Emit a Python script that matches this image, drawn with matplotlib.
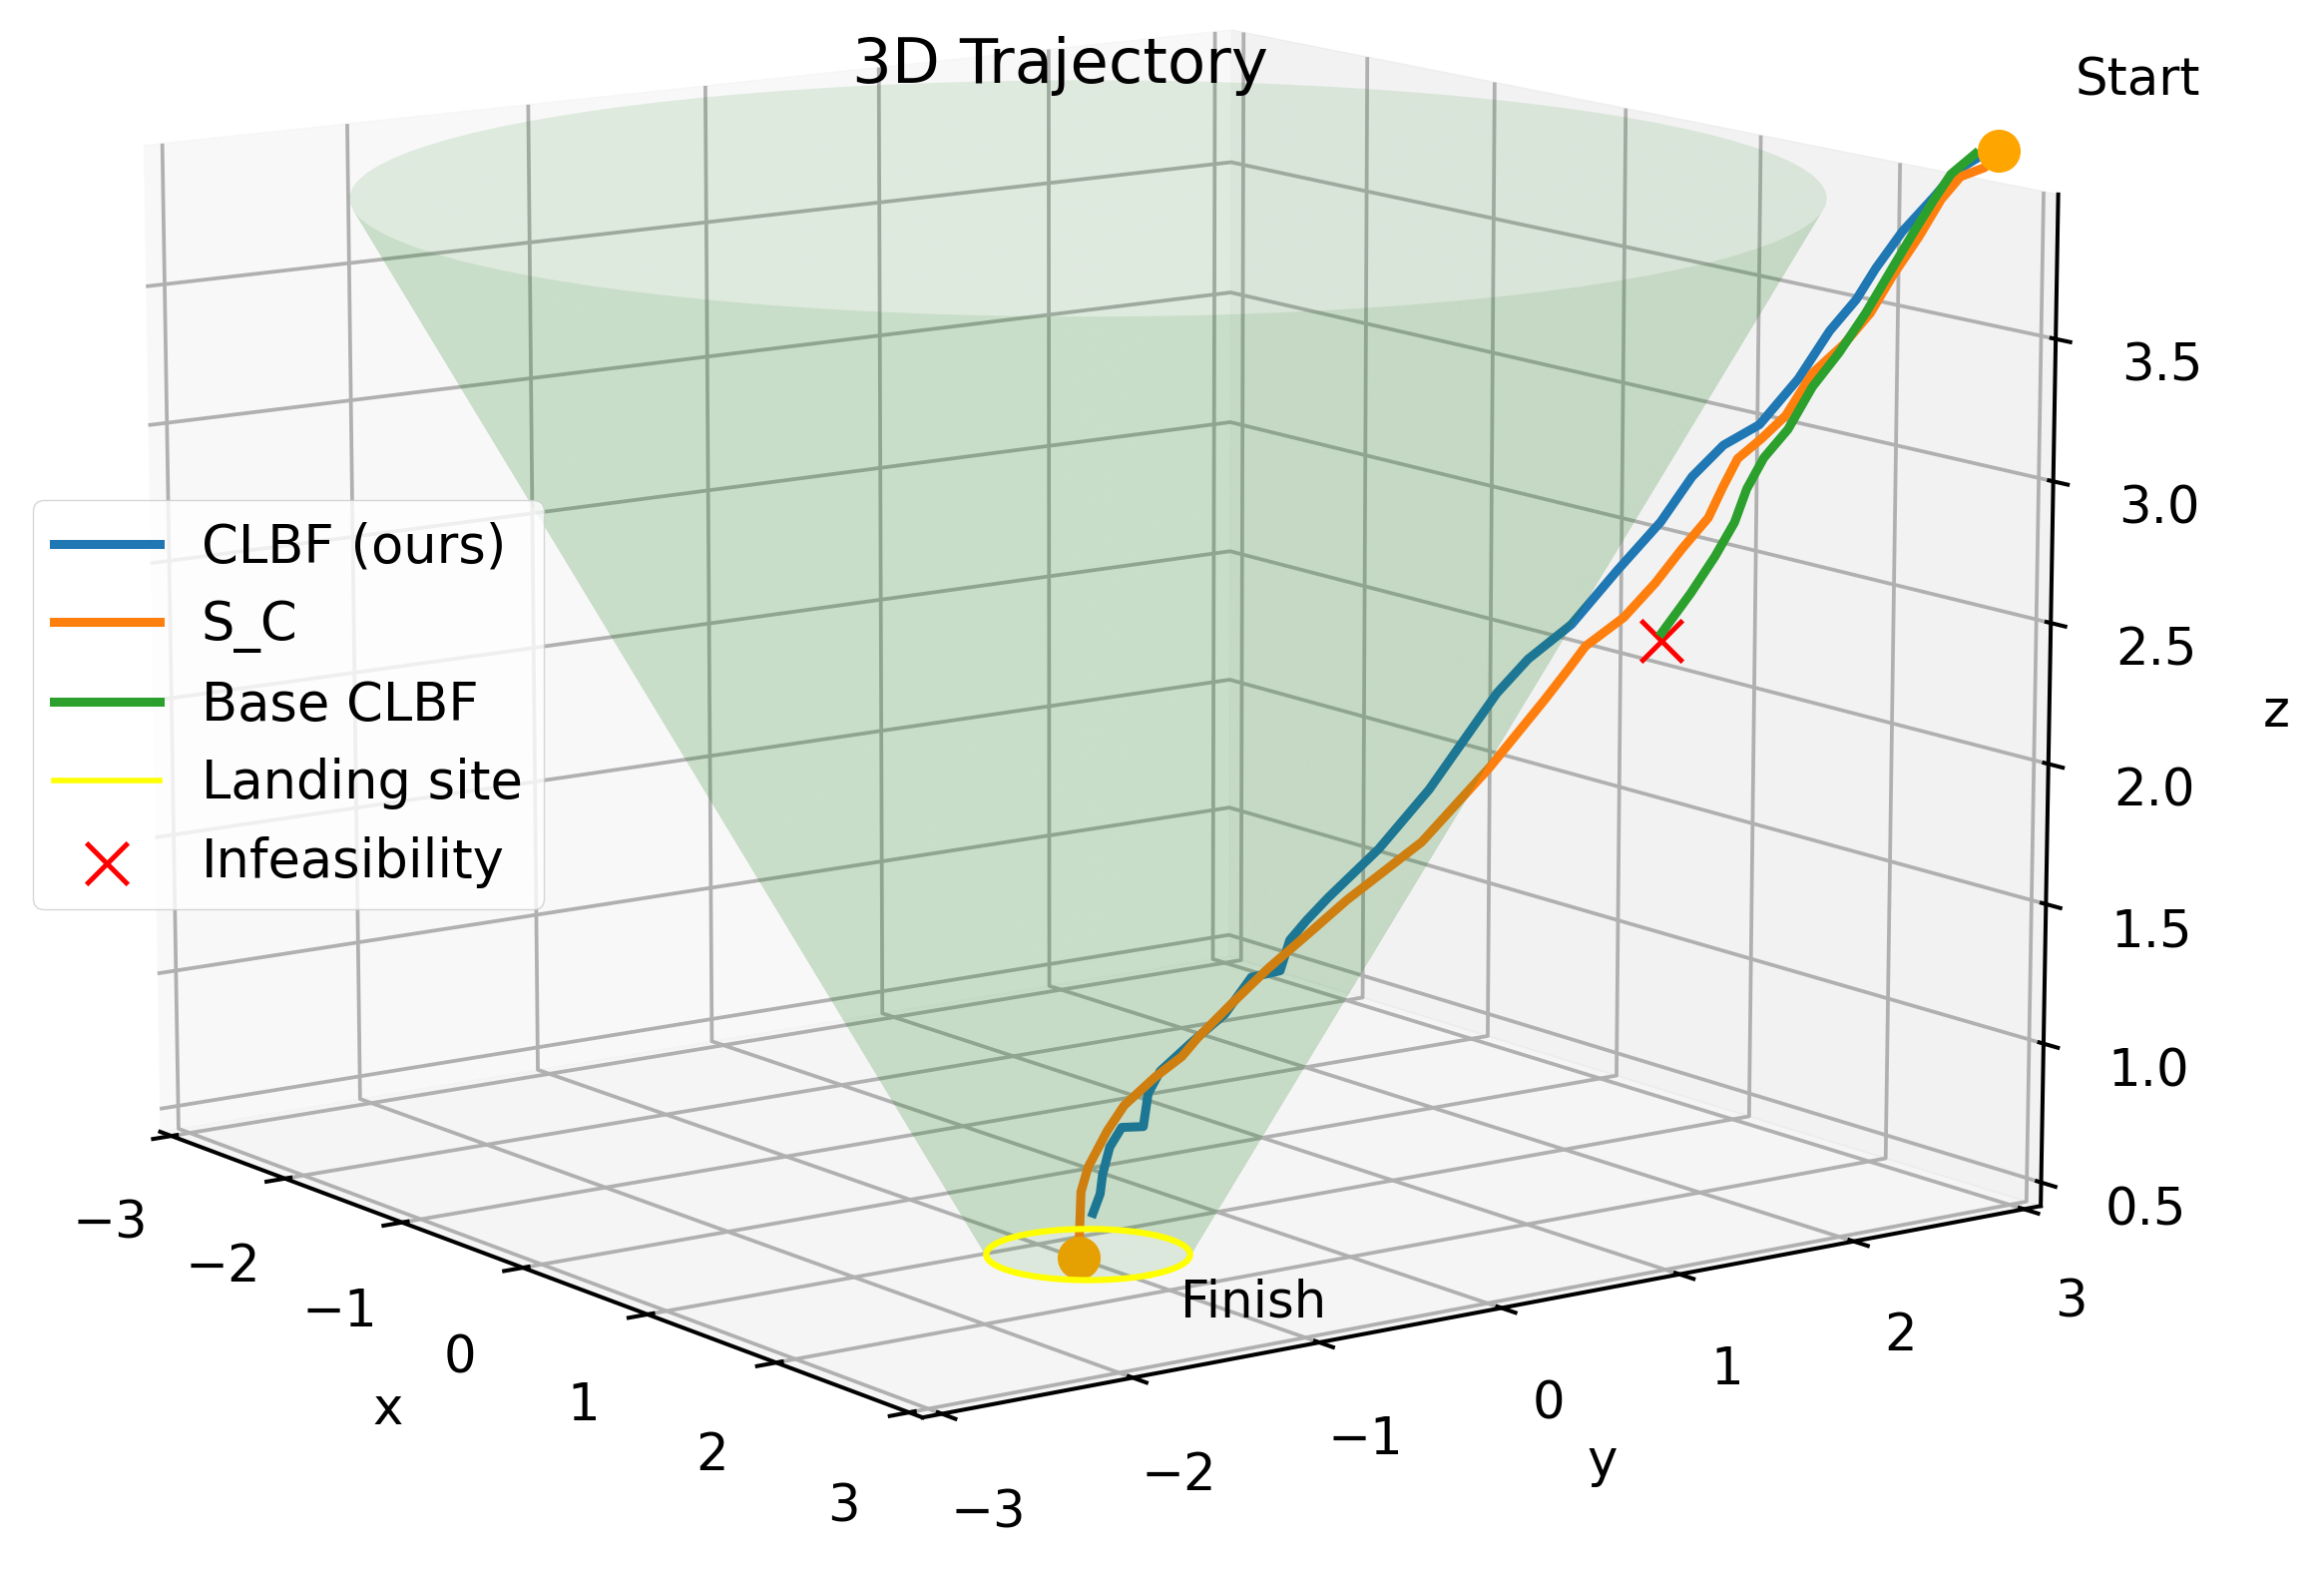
import numpy as np
import matplotlib
matplotlib.use('Agg')
import matplotlib.pyplot as plt

W, H = 2329, 1572

# all three runs lie in the vertical plane x = 0.5*y
plane_k = 0.5
blue_y = [3.78, 3.7, 3.6, 3.51, 3.38, 3.27, 3.19, 3.08, 2.95, 2.79, 2.64, 2.51, 2.38, 2.2, 2.01, 1.83, 1.7, 1.42, 1.21, 1.0, 0.91, 0.84, 0.8, 0.68, 0.57, 0.43, 0.3, 0.25, 0.23, 0.14, 0.09, 0.06, 0.05, 0.02]
blue_z = [3.99, 3.97, 3.92, 3.83, 3.71, 3.58, 3.47, 3.36, 3.19, 3.03, 2.96, 2.85, 2.69, 2.52, 2.33, 2.21, 2.09, 1.75, 1.54, 1.37, 1.29, 1.22, 1.11, 1.09, 0.96, 0.86, 0.76, 0.68, 0.56, 0.56, 0.49, 0.39, 0.32, 0.25]
orange_y = [3.78, 3.72, 3.62, 3.54, 3.45, 3.34, 3.25, 3.14, 3.01, 2.9, 2.8, 2.7, 2.64, 2.58, 2.47, 2.36, 2.23, 2.07, 2.0, 1.9, 1.67, 1.39, 1.08, 0.93, 0.75, 0.59, 0.46, 0.39, 0.28, 0.15, 0.08, -0.0, -0.03, -0.04]
orange_z = [3.99, 3.93, 3.9, 3.82, 3.69, 3.55, 3.42, 3.31, 3.21, 3.06, 2.98, 2.91, 2.81, 2.7, 2.59, 2.47, 2.35, 2.25, 2.17, 2.06, 1.82, 1.56, 1.36, 1.25, 1.12, 0.99, 0.88, 0.81, 0.74, 0.64, 0.55, 0.42, 0.33, 0.09]
green_y = [3.68, 3.58, 3.51, 3.43, 3.34, 3.23, 3.12, 3.01, 2.91, 2.81, 2.74, 2.69, 2.61, 2.51, 2.39]
green_z = [3.98, 3.91, 3.82, 3.71, 3.58, 3.42, 3.28, 3.16, 3.01, 2.91, 2.8, 2.68, 2.56, 2.43, 2.29]
cross_y, cross_z = 2.39, 2.26
xy_ticks = [-3, -2, -1, 0, 1, 2, 3]
z_ticks = [0.5, 1, 1.5, 2, 2.5, 3, 3.5]
cone_base_z, cone_top_z, base_r, slope = 0.1, 3.93, 0.47, 0.748

plt.rcParams.update({'font.size': 37, 'axes.linewidth': 2.9, 'grid.linewidth': 2.7,
                     'xtick.major.width': 2.9, 'ytick.major.width': 2.9})
fig = plt.figure(figsize=(W/100, H/100), dpi=100)
ax = fig.add_axes([0.0016, -0.1206, 0.9087, 1.3463], projection='3d', computed_zorder=False)
ax.set_box_aspect((4, 4, 3))
ax.view_init(elev=11.6, azim=-35.8)
ax.set_xlim(-3.1, 3.1)
ax.set_ylim(-3.1, 3.1)
ax.set_zlim(0.415, 4.005)


def run_line(y, z, c, label):
    y = np.array(y)
    ax.plot(plane_k*y, y, z, color=c, lw=6.5, label=label, zorder=2)


run_line(blue_y, blue_z, 'C0', 'CLBF (ours)')
run_line(orange_y, orange_z, 'C1', 'S_C')
ax.scatter([plane_k*cross_y], [cross_y], [cross_z], marker='x', c='red', s=900, linewidths=3.6,
           label='Infeasibility', depthshade=False, zorder=2)
run_line(green_y, green_z, 'C2', 'Base CLBF')
ax.scatter([plane_k*orange_y[-1]], [orange_y[-1]], [orange_z[-1]], c='orange', s=900, depthshade=False, zorder=2)
ax.scatter([plane_k*orange_y[0]], [orange_y[0]], [orange_z[0]], c='orange', s=900, depthshade=False, zorder=6)

# cone over the lines so they get tinted
th, zz = np.meshgrid(np.linspace(0, 2*np.pi, 100), np.linspace(cone_base_z, cone_top_z, 100))
rr = base_r + (zz-cone_base_z)*slope
ax.plot_surface(rr*np.cos(th), rr*np.sin(th), zz, color='#1b7f1b', alpha=0.11, rstride=1, cstride=1,
                linewidth=0, shade=False, zorder=3)
t = np.linspace(0, 2*np.pi, 100)
ax.plot(base_r*np.cos(t), base_r*np.sin(t), cone_base_z, color='yellow', lw=4.5, label='Landing site', zorder=4)

ax.set_xticks(xy_ticks)
ax.set_yticks(xy_ticks)
ax.set_zticks(z_ticks)
ax.tick_params(axis='both', pad=35)
for a in (ax.xaxis, ax.yaxis, ax.zaxis):
    a._axinfo['tick']['outward_factor'] = 0.06
ax.set_xlabel('x', labelpad=71)
ax.set_ylabel('y', labelpad=71)
ax.set_zlabel('z', labelpad=71)

h, l = ax.get_legend_handles_labels()
order = [l.index(n) for n in ['CLBF (ours)', 'S_C', 'Base CLBF', 'Landing site', 'Infeasibility']]
leg = fig.legend([h[i] for i in order], [l[i] for i in order], loc='upper left',
                 bbox_to_anchor=(33/W, 1-501/H), borderaxespad=0, fontsize=38)
leg.get_lines()[3].set_linewidth(4)

fig.text(1062/W, 1-83/H, '3D Trajectory', ha='center', va='baseline', fontsize=45)
fig.text(2142/W, 1-96/H, 'Start', ha='center', va='baseline', fontsize=37)
fig.text(1256/W, 1-1320/H, 'Finish', ha='center', va='baseline', fontsize=37)
fig.savefig('out.png', dpi=100)
